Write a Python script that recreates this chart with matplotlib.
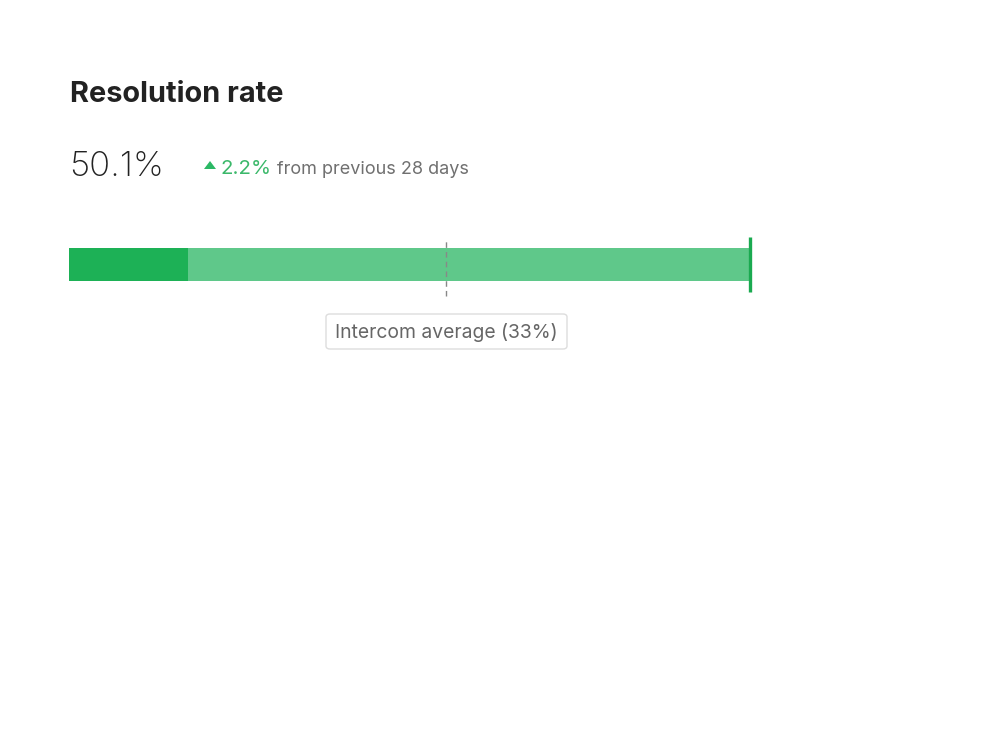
import matplotlib.pyplot as plt
from matplotlib.patches import FancyBboxPatch, Polygon

# values
title = "Resolution rate"
rate_label = "50.1%"
change_label = "2.2%"
change_note = "from previous 28 days"
avg_label = "Intercom average (33%)"

scale_max = 59.6      # right end of the bar
segments = [10.4, 59.6]   # cumulative ends: dark part, light part
seg_colors = ["#1db156", "#5fc88a"]
average = 33.0

plt.rcParams["font.family"] = ["Inter", "DejaVu Sans"]

fig = plt.figure(figsize=(10, 7.5), dpi=100)
fig.patch.set_facecolor("white")

# bar axes (pixel box: x 69..750, y 230..300)
W, H = 1000, 750
ax = fig.add_axes([69 / W, 1 - 300 / H, 681 / W, 70 / H])
ax.set_xlim(0, scale_max)
ax.set_ylim(0, 70)
ax.axis("off")

left = 0
for end, c in zip(segments, seg_colors):
    ax.barh(35.5, end - left, left=left, height=33, color=c, edgecolor="none")
    left = end

# average marker
ax.vlines(average, 4, 60, colors="#888888", linestyles=(0, (4, 3)), linewidth=1)
# end marker
ax.vlines(scale_max, 8, 63, colors="#1aaa50", linewidth=2.4, clip_on=False)

# texts
fig.text(70 / W, 1 - 94 / H, title, fontsize=20.8, fontweight="bold",
         color="#222222", va="center", ha="left")
fig.text(69 / W, 1 - 167 / H, rate_label, fontsize=25, fontweight="light",
         color="#222222", va="center", ha="left")
tri = Polygon([(204 / W, 1 - 169 / H), (216 / W, 1 - 169 / H), (210 / W, 1 - 161 / H)],
              closed=True, transform=fig.transFigure, facecolor="#2bb865",
              edgecolor="none")
fig.patches.append(tri)
fig.text(221 / W, 1 - 169 / H, change_label, fontsize=14.8, color="#3bb86a",
         va="center", ha="left")
fig.text(277 / W, 1 - 170 / H, change_note, fontsize=13, color="#707070",
         va="center", ha="left")

# label box under the average line
box = FancyBboxPatch((326 / W, 1 - 349 / H), 241 / W, 35 / H,
                     boxstyle="round,pad=0,rounding_size=0.004",
                     transform=fig.transFigure, facecolor="white",
                     edgecolor="#dddddd", linewidth=1)
fig.patches.append(box)
fig.text(446 / W, 1 - 333 / H, avg_label, fontsize=13.9, color="#666666",
         va="center", ha="center")

fig.savefig("out.png", dpi=100)
